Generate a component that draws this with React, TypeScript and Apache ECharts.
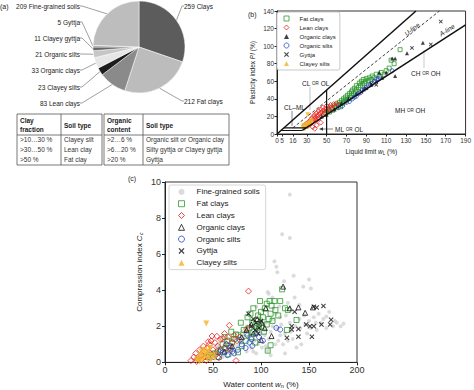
import React, { useEffect, useRef } from 'react';
import * as echarts from 'echarts';

const FONT = 'Liberation Sans, Arial, Helvetica, sans-serif';

// ---------- (a) pie ----------
const pieNames = ['Clays', 'Fat clays', 'Lean clays', 'Clayey silts', 'Organic clays', 'Organic silts', 'Clayey gyttja', 'Gyttja', 'Fine-grained soils'];
const pieCounts = [259, 212, 83, 23, 33, 21, 11, 5, 209];
const pieColors = ['#5c5c5c', '#bcbcbc', '#8a8a8a', '#1c1c1c', '#e6e6e6', '#c6c6c6', '#666666', '#9e9e9e', '#bdbdbd'];
const pieLabelPos: [number, number, string][] = [
  [184, 6, 'left'], [184, 101, 'left'], [80, 103, 'right'], [80, 87, 'right'], [80, 70, 'right'],
  [80, 54, 'right'], [80, 38, 'right'], [80, 22, 'right'], [80, 6, 'right'],
];

// ---------- tables ----------
const clayHeader = ['Clay\nfraction', 'Soil type'];
const clayRows = [['>10…30 %', 'Clayey silt'], ['>30…50 %', 'Lean clay'], ['>50 %', 'Fat clay']];
const orgHeader = ['Organic\ncontent', 'Soil type'];
const orgRows = [['>2…6 %', 'Organic silt or Organic clay'], ['>6…20 %', 'Silty gyttja or Clayey gyttja'], ['>20 %', 'Gyttja']];

// ---------- (b) plasticity chart ----------
const bTicksX = [0, 5, 16, 30, 50, 70, 90, 110, 130, 150, 170, 190];
const bFat = [[48,24],[50,26],[52,28],[53,25],[55,30],[56,27],[58,32],[60,30],[60,34],[62,33],[63,36],[64,31],[65,38],[66,35],[67,40],[68,37],[69,42],[70,39],[71,44],[72,40],[73,46],[74,42],[75,48],[75,44],[76,50],[77,46],[78,52],[79,48],[80,55],[80,50],[82,53],[83,58],[84,55],[85,60],[86,57],[87,62],[88,58],[89,60],[90,63],[92,61],[93,64],[95,62],[96,66],[98,64],[100,68],[103,66],[105,70],[108,68],[110,72],[113,75],[115,84],[118,80],[124,96]];
const bLean = [[28,10],[30,12],[31,9],[32,14],[33,11],[34,16],[35,13],[35,18],[36,15],[36,8],[37,20],[38,17],[38,22],[38,6],[39,19],[40,24],[40,16],[40,10],[41,21],[42,26],[42,18],[43,23],[44,28],[44,20],[44,13],[45,25],[46,22],[46,30],[47,27],[48,24],[49,29],[50,26],[50,32],[52,28],[53,31],[54,33],[55,29],[57,34],[58,31],[60,35],[62,33]];
const bOrgClay = [[45,20],[50,22],[58,28],[65,35],[72,40],[80,46],[88,52],[95,56],[100,60],[103,70],[106,64],[110,70],[116,86],[119,86],[119,66],[131,92],[147,104]];
const bOrgSilt = [[62,30],[66,32],[70,36],[73,37],[76,40],[78,42],[80,43],[82,46],[84,47],[86,50],[88,51],[90,53],[92,55],[94,56],[96,58],[98,60],[100,62],[102,63],[104,64],[116,72]];
const bGyttja = [[85,48],[90,52],[95,57],[100,56],[136,98],[155,102],[165,128]];
const bClSilt = [[26,8],[27,10],[28,6],[29,9],[30,11],[31,8],[32,12],[33,10],[34,13],[31,22],[35,15]];
const bLineUpper = [[0, 0], [140, 140]];
const bLineU = [[16, 7], [163.6, 140]];
const bLineA = [[25.5, 4], [190, 124.1]];
const bLine50 = [[50, 0], [50, 50]];
const bLinePI4 = [[4, 4], [25.5, 4]];
const bLinePI7 = [[7, 7], [29.6, 7]];

// ---------- (c) compression index ----------
const cFine = [[130,9.3],[122,7.1],[130,6.9],[114,5.6],[116,5.3],[117,5.0],[134,4.8],[150,4.6],[124,4.5],[144,4.2],[152,4.1],[107,3.9],[108,3.8],[186,2.15],[177,2.3],[171,2.8],[168,2.55],[179,2.2],[137,0.83],[101,0.83],[110,0.4],[95,0.5],[60,0.3],[45,0.2],[40,0.4],[55,0.9],[70,1.3],[80,1.7],[85,2.0],[90,2.3],[98,2.6],[105,2.2],[112,2.0],[120,2.5],[125,1.6],[130,2.2],[140,2.4],[145,2.6],[150,2.3],[155,2.5],[160,2.7],[162,2.2],[148,1.6],[142,1.0],[118,1.2],[100,1.6],[93,1.2],[88,1.5],[75,0.9],[65,0.7],[52,0.5],[35,0.2],[30,0.1],[48,0.6],[78,1.1],[102,2.9],[115,2.7],[128,3.3],[135,3.6],[112,3.6],[95,3.1],[90,0.8],[85,0.6],[123,1.0],[108,1.3],[133,1.3],[158,1.8],[165,2.4],[140,3.2],[175,2.0],[107,0.65],[95,1.9],[100,2.4],[104,1.5],[110,1.7],[113,2.4],[117,1.9],[121,2.1],[126,2.6],[131,1.7],[136,2.0],[141,1.9],[146,2.1],[152,1.9],[157,2.2],[168,1.9],[183,2.0],[120,1.5],[128,1.2],[115,1.0],[105,0.9],[97,1.0],[92,0.6],[125,0.5],[113,3.0],[119,3.1]];
const cFat = [[99,3.4],[109,3.4],[114,3.4],[120,3.4],[106,3.25],[111,3.15],[125,3.0],[128,2.9],[137,2.35],[122,4.05],[104,3.0],[100,2.8],[97,2.6],[102,2.5],[95,2.3],[108,2.4],[112,2.3],[106,2.1],[100,2.0],[96,1.9],[92,1.7],[88,1.9],[85,1.6],[82,1.8],[79,2.2],[76,1.5],[74,1.55],[72,1.3],[70,1.1],[67,0.9],[65,1.2],[63,0.8],[60,1.0],[58,0.7],[55,0.6],[52,0.5],[76,0.56],[80,0.9],[84,1.2],[90,1.4],[94,1.1],[115,2.9],[118,2.6],[110,2.7],[107,0.65],[127,1.8],[86,2.5],[91,2.2],[98,2.05],[103,1.7],[69,1.7],[62,1.4],[48,0.4],[45,0.3],[56,0.3],[66,0.45],[110,0.95],[92,3.0],[89,2.7]];
const cLean = [[87,3.95],[67,2.05],[49,1.46],[48,1.19],[58,1.28],[45,1.15],[27,0.1],[74,0.1],[30,0.3],[32,0.5],[34,0.2],[36,0.7],[38,0.4],[40,0.9],[41,0.6],[42,0.3],[44,0.8],[46,1.0],[47,0.5],[50,0.7],[52,1.1],[53,0.4],[55,0.9],[57,0.6],[60,1.3],[62,0.8],[64,1.0],[66,1.4],[68,0.7],[70,1.1],[72,1.5],[75,1.2],[38,0.15],[33,0.05],[43,0.1],[56,0.25],[62,1.6],[54,1.45],[78,1.4],[85,1.85]];
const cOrgClay = [[123,4.2],[139,3.05],[146,2.75],[154,3.05],[105,3.0],[111,1.46],[100,1.25],[96,2.4],[90,2.1],[85,1.8],[80,1.4],[92,1.6],[104,1.9],[70,0.9],[62,0.6],[130,3.0],[101,2.2]];
const cOrgSilt = [[116,1.91],[120,1.82],[90,1.28],[91,0.92],[58,0.65],[95,1.6],[88,1.1],[84,0.8],[80,1.0],[76,0.7],[72,0.5],[68,0.8],[65,0.4],[60,0.55],[55,0.3],[98,1.4],[102,1.2],[86,1.5],[78,1.25],[70,0.6],[50,0.3],[64,1.0]];
const cGyttja = [[135,2.81],[155,3.08],[158,3.05],[165,3.12],[147,2.1],[151,2.0],[155,2.0],[163,2.1],[172,2.1],[173,2.36],[132,2.0],[132,1.82],[139,1.85],[127,1.37],[139,1.42],[153,1.42],[87,2.7],[92,2.4],[95,2.2],[98,1.9],[100,2.3],[94,1.8],[97,1.6],[90,2.0]];
const cClSilt = [[43,2.15],[35,0.2],[37,0.4],[39,0.1],[40,0.3],[42,0.5],[44,0.2],[45,0.6],[46,0.35],[48,0.15],[50,0.4],[36,0.05],[47,0.8],[41,0.7],[52,0.25],[38,0.6],[33,0.1]];

const GREEN = '#2f9a2f';
const RED = '#e8201c';
const BLUE = '#2445c8';
const BLACK = '#111111';
const YELLOW = '#f0b428';
const GRAY = '#d2d2d2';
const XPATH = 'path://M0,1.5L1.5,0L5,3.5L8.5,0L10,1.5L6.5,5L10,8.5L8.5,10L5,6.5L1.5,10L0,8.5L3.5,5Z';

const hollow = (c: string) => ({ color: 'rgba(255,255,255,0)', borderColor: c, borderWidth: 1 });
const filled = (c: string) => ({ color: c });

function scatter(name: string, data: number[][], idx: number, symbol: string, size: number, itemStyle: any, rotate = 0) {
  return { type: 'scatter', name, data, xAxisIndex: idx, yAxisIndex: idx, symbol, symbolSize: size, symbolRotate: rotate,
    symbolKeepAspect: true, itemStyle, silent: true, z: 2 };
}
function refLine(data: number[][], width: number, dashed = false) {
  return { type: 'line', data, xAxisIndex: 0, yAxisIndex: 0, symbol: 'none', silent: true, z: 3,
    lineStyle: { color: '#111', width, type: dashed ? [3, 2] : 'solid' } };
}

const txt = (x: number, y: number, text: string, size: number, extra: any = {}) => ({
  type: 'text', x, y, silent: true,
  style: { text, fontSize: size, fontFamily: FONT, fill: '#222', align: 'left', verticalAlign: 'middle', ...extra },
});
const richOr = (a: string, b: string) => ({
  text: `{a|${a}} {s|OR} {a|${b}}`,
  rich: { a: { fontSize: 6.5, fontFamily: FONT, fill: '#222' }, s: { fontSize: 4.5, fontFamily: FONT, fill: '#222' } },
});
const richTxt = (x: number, y: number, a: string, b: string) => ({
  type: 'text', x, y, silent: true,
  style: { ...richOr(a, b), fontSize: 6.5, fontFamily: FONT, fill: '#222', align: 'left', verticalAlign: 'middle' },
});
const seg = (x1: number, y1: number, x2: number, y2: number, color = '#333', w = 0.6) => ({
  type: 'line', silent: true, shape: { x1, y1, x2, y2 }, style: { stroke: color, lineWidth: w },
});

function tableGraphic(x: number, w: number, split: number, header: string[], rows: string[][]) {
  const top = 114, hl = 135, bottom = 165;
  const els: any[] = [
    { type: 'rect', silent: true, shape: { x, y: top, width: w, height: bottom - top }, style: { fill: '#fff', stroke: '#555', lineWidth: 0.8 } },
    seg(x, hl, x + w, hl, '#555', 0.8),
    seg(split, top, split, bottom, '#555', 0.8),
    txt(x + 3, (top + hl) / 2, header[0], 6.5, { fontWeight: 'bold', lineHeight: 9 }),
    txt(split + 3, (top + hl) / 2 + 0.5, header[1], 6.5, { fontWeight: 'bold' }),
  ];
  rows.forEach((r, i) => {
    const yc = 139.5 + i * 10;
    els.push(txt(x + 3, yc, r[0], 6.5, { fill: '#333' }));
    els.push(txt(split + 3, yc, r[1], 6.5, { fill: '#333' }));
  });
  return els;
}

const subRich = (size: number) => ({
  i: { fontStyle: 'italic', fontSize: size, fontFamily: FONT, color: '#222' },
  s: { fontSize: size * 0.7, fontFamily: FONT, color: '#222', verticalAlign: 'bottom', padding: [size * 0.45, 0, 0, 0] },
  si: { fontStyle: 'italic', fontSize: size * 0.7, fontFamily: FONT, color: '#222', verticalAlign: 'bottom', padding: [size * 0.45, 0, 0, 0] },
});

function legendRich(size: number, lh: number, gap: number) {
  return {
    sp: { width: gap, fontSize: size, lineHeight: lh, fontFamily: FONT },
    t: { fontSize: size, lineHeight: lh, fontFamily: FONT, color: '#222' },
  };
}

function buildOption() {
  const bLegendNames = ['b:Fat clays', 'b:Lean clays', 'b:Organic clays', 'b:Organic silts', 'b:Gyttja', 'b:Clayey silts'];
  const cLegendNames = ['Fine-grained soils', 'Fat clays', 'Lean clays', 'Organic clays', 'Organic silts', 'Gyttja', 'Clayey silts'];
  return {
    animation: false,
    backgroundColor: '#fff',
    textStyle: { fontFamily: FONT },
    grid: [
      { left: 277, top: 11, width: 191, height: 123, show: true, borderColor: '#333', borderWidth: 1, backgroundColor: 'transparent' },
      { left: 165, top: 182, width: 192, height: 185, show: true, borderColor: '#333', borderWidth: 1, backgroundColor: 'transparent' },
    ],
    xAxis: [
      {
        gridIndex: 0, type: 'value', min: 0, max: 190,
        axisLine: { lineStyle: { color: '#222', width: 1 } },
        axisTick: { show: true, customValues: bTicksX, length: 2.5, lineStyle: { color: '#222' } },
        axisLabel: { customValues: bTicksX, fontSize: 6.5, color: '#333', margin: 3, fontFamily: FONT },
        splitLine: { show: false },
        name: 'Liquid limit {i|w}{s|L} (%)', nameLocation: 'middle', nameGap: 14,
        nameTextStyle: { fontSize: 6.5, color: '#222', fontFamily: FONT, rich: subRich(6.5) },
      },
      {
        gridIndex: 1, type: 'value', min: 0, max: 200, interval: 50,
        axisLine: { lineStyle: { color: '#222', width: 1 } },
        axisTick: { show: true, length: 3, lineStyle: { color: '#222' } },
        axisLabel: { fontSize: 9, color: '#333', margin: 3, fontFamily: FONT },
        splitLine: { show: false },
        name: 'Water content {i|w}{s|n} (%)', nameLocation: 'middle', nameGap: 17,
        nameTextStyle: { fontSize: 8, color: '#222', fontFamily: FONT, rich: subRich(8) },
      },
    ],
    yAxis: [
      {
        gridIndex: 0, type: 'value', min: 0, max: 140, interval: 20,
        axisLine: { show: true, lineStyle: { color: '#222', width: 1 } },
        axisTick: { show: true, length: 2.5, lineStyle: { color: '#222' } },
        axisLabel: { fontSize: 6.5, color: '#333', margin: 3, fontFamily: FONT },
        splitLine: { show: false },
        name: 'Plasticity index {i|PI} (%)', nameLocation: 'middle', nameGap: 21,
        nameTextStyle: { fontSize: 6.5, color: '#222', fontFamily: FONT, rich: subRich(6.5) },
      },
      {
        gridIndex: 1, type: 'value', min: 0, max: 10, interval: 2,
        axisLine: { show: true, lineStyle: { color: '#222', width: 1 } },
        axisTick: { show: true, length: 3, lineStyle: { color: '#222' } },
        axisLabel: { fontSize: 9, color: '#333', margin: 4, fontFamily: FONT },
        splitLine: { show: false },
        name: 'Compression index {i|C}{si|c}', nameLocation: 'middle', nameGap: 21,
        nameTextStyle: { fontSize: 8, color: '#222', fontFamily: FONT, rich: subRich(8) },
      },
    ],
    legend: [
      {
        data: bLegendNames, orient: 'vertical', left: 277, top: 12,
        formatter: (n: string) => `{sp| }{t|${n.replace(/^b:/, '')}}`,
        padding: [2, 4, 2, 6.5], itemWidth: 5, itemHeight: 5, itemGap: 0,
        textStyle: { fontSize: 6, lineHeight: 9, color: '#222', fontFamily: FONT, rich: legendRich(6, 9, 5.5) },
        backgroundColor: '#fff', borderColor: '#bbb', borderWidth: 0.8, borderRadius: 2,
        itemStyle: { borderWidth: 1 }, selectedMode: false,
      },
      {
        data: cLegendNames, orient: 'vertical', left: 169, top: 185,
        formatter: (n: string) => `{sp| }{t|${n}}`,
        padding: [1, 6, 1, 9], itemWidth: 6, itemHeight: 6, itemGap: 0,
        textStyle: { fontSize: 8, lineHeight: 11.8, color: '#222', fontFamily: FONT, rich: legendRich(8, 11.8, 7) },
        backgroundColor: '#fff', borderColor: '#ccc', borderWidth: 0.8, borderRadius: 2,
        itemStyle: { borderWidth: 1 }, selectedMode: false,
      },
    ],
    series: [
      {
        type: 'pie', center: [139, 47], radius: 46, startAngle: 90, clockwise: true, silent: true,
        avoidLabelOverlap: false,
        data: pieNames.map((n, i) => ({ name: `${pieCounts[i]} ${n}`, value: pieCounts[i], itemStyle: { color: pieColors[i] } })),
        itemStyle: { borderColor: '#fff', borderWidth: 0.5 },
        label: { show: true, formatter: '{b}', fontSize: 6.5, color: '#222', fontFamily: FONT },
        labelLine: { show: true, length: 4, length2: 2, lineStyle: { color: '#888', width: 0.8 } },
        labelLayout: (p: any) => {
          const q = pieLabelPos[p.dataIndex];
          return { x: q[0], y: q[1], align: q[2], verticalAlign: 'middle' };
        },
      },
      refLine(bLineUpper, 1.5),
      refLine(bLineU, 0.8, true),
      refLine(bLineA, 1.5),
      refLine(bLine50, 1.2),
      refLine(bLinePI4, 1.2),
      refLine(bLinePI7, 1.2),
      scatter('b:Fat clays', bFat, 0, 'rect', 4, hollow(GREEN)),
      scatter('b:Lean clays', bLean, 0, 'diamond', 5, hollow(RED)),
      scatter('b:Organic clays', bOrgClay, 0, 'triangle', 4, filled(BLACK)),
      scatter('b:Organic silts', bOrgSilt, 0, 'circle', 4, hollow(BLUE)),
      scatter('b:Gyttja', bGyttja, 0, XPATH, 4, filled(BLACK)),
      scatter('b:Clayey silts', bClSilt, 0, 'triangle', 5, filled(YELLOW), 180),
      scatter('Fine-grained soils', cFine, 1, 'circle', 4, filled(GRAY)),
      scatter('Fat clays', cFat, 1, 'rect', 5, hollow(GREEN)),
      scatter('Lean clays', cLean, 1, 'diamond', 6, hollow(RED)),
      scatter('Organic clays', cOrgClay, 1, 'triangle', 5, hollow(BLACK)),
      scatter('Organic silts', cOrgSilt, 1, 'circle', 5, hollow(BLUE)),
      scatter('Gyttja', cGyttja, 1, XPATH, 5, filled(BLACK)),
      scatter('Clayey silts', cClSilt, 1, 'triangle', 6, filled(YELLOW), 180),
    ],
    graphic: [
      txt(0, 6, '(a)', 7),
      ...tableGraphic(17, 85, 61, clayHeader, clayRows),
      ...tableGraphic(104, 125, 143, orgHeader, orgRows),
      txt(248, 14, '(b)', 7),
      txt(128, 178, '(c)', 7),
      txt(284, 107, 'CL–ML', 6.5),
      seg(292, 111, 292, 126),
      richTxt(302, 83, 'CL', 'OL'),
      seg(310, 87, 310, 110, '#999'),
      richTxt(335, 129, 'ML', 'OL'),
      seg(333, 129, 322, 129),
      { type: 'polygon', silent: true, shape: { points: [[319, 129], [323, 127.3], [323, 130.7]] }, style: { fill: '#333' } },
      richTxt(411, 73, 'CH', 'OH'),
      seg(424, 50, 424, 68, '#aaa'),
      richTxt(395, 110, 'MH', 'OH'),
      { type: 'text', x: 412, y: 29, rotation: (38 * Math.PI) / 180, silent: true,
        style: { text: 'U-line', fontSize: 6.5, fontStyle: 'italic', fontFamily: FONT, fill: '#222', align: 'center', verticalAlign: 'middle' } },
      { type: 'text', x: 447, y: 30, rotation: (32.5 * Math.PI) / 180, silent: true,
        style: { text: 'A-line', fontSize: 6.5, fontStyle: 'italic', fontFamily: FONT, fill: '#222', align: 'center', verticalAlign: 'middle' } },
    ],
  };
}

export default function App() {
  const ref = useRef<HTMLDivElement>(null);
  useEffect(() => {
    const chart = echarts.init(ref.current!, null, { renderer: 'svg' });
    chart.setOption(buildOption() as any);
    return () => chart.dispose();
  }, []);
  return <div ref={ref} style={{ position: 'fixed', left: 0, top: 0, width: 474, height: 390, background: '#fff' }} />;
}
